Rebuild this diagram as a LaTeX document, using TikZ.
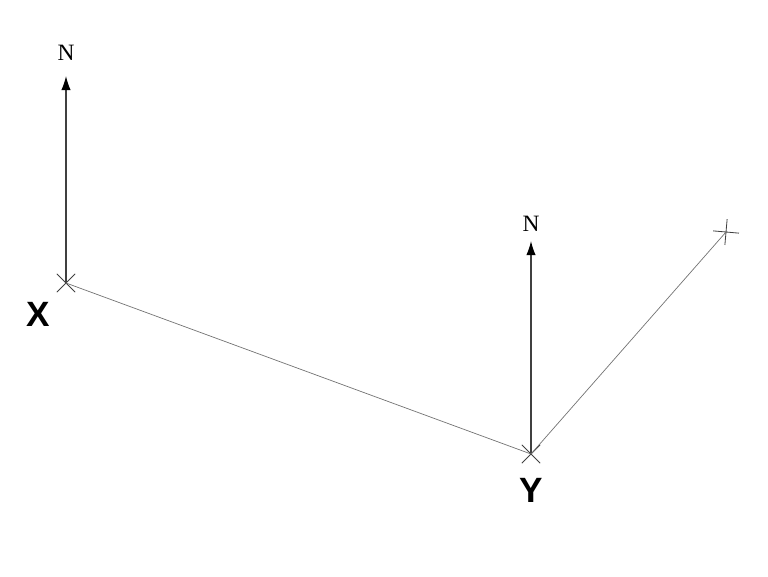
\documentclass[tikz,border=0pt]{standalone}
\usepackage{fontspec}
\setmainfont{Liberation Serif}
\newfontfamily\labelfont{Liberation Sans}
\usetikzlibrary{arrows.meta,shapes.misc}

\tikzset{
  station/.style={cross out,draw=black!75,line width=0.7pt,minimum size=15pt,inner sep=0pt},
  northline/.style={draw=black!75,line width=1pt,-{Latex[length=12pt,width=8pt,color=black]}},
  survey/.style={draw=black!55,line width=0.6pt},
  northlabel/.style={font=\fontsize{20}{20}\selectfont},
  pointlabel/.style={font=\labelfont\bfseries\fontsize{30}{30}\selectfont}
}

\begin{document}
\begin{tikzpicture}[x=0.03cm,y=-0.03cm]

  \useasboundingbox (0,0) rectangle (768,576);

  % stations
  \node (X) at (66, 283) [station] {};
  \node (Y) at (531, 454) [station] {};
  \node (T) at (726, 232) [station,rotate=40,minimum size=15pt] {};

  \coordinate (XN) at (66, 76);
  \coordinate (YN) at (531, 241);

  % north arrows
  \draw[northline] (X.center) -- (XN);
  \draw[northline] (Y.center) -- (YN);
  \node (nX) at (66, 53) [northlabel] {N};
  \node (nY) at (531, 224) [northlabel] {N};

  % survey lines
  \draw[survey] (X.center) -- (Y.center);
  \draw[survey] (Y.center) -- (T.center);

  \node (lX) at (38, 314) [pointlabel] {X};
  \node (lY) at (531, 490) [pointlabel] {Y};

\end{tikzpicture}
\end{document}
